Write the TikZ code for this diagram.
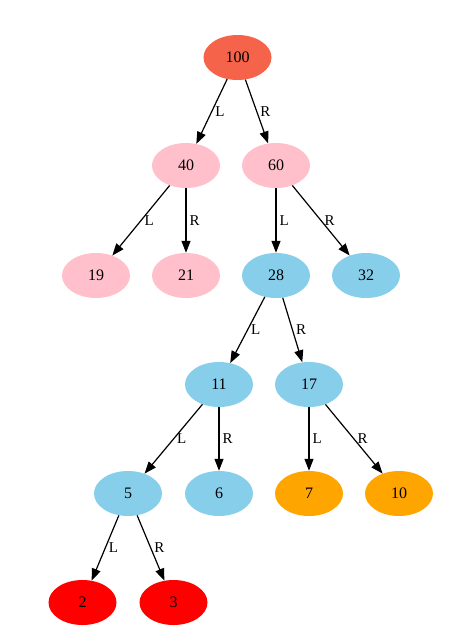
\documentclass[tikz,border=0pt]{standalone}
\usepackage{fontspec}
\setmainfont{Liberation Serif}
\usetikzlibrary{arrows.meta,shapes.geometric}
\definecolor{ctomato}{RGB}{245,99,74}
\definecolor{cpink}{RGB}{255,192,203}
\definecolor{csky}{RGB}{135,206,235}
\definecolor{corange}{RGB}{255,165,0}
\definecolor{cred}{RGB}{255,0,0}
\begin{document}
\begin{tikzpicture}[x=1pt,y=-1pt,
  tnode/.style={ellipse,minimum width=68pt,minimum height=45pt,inner sep=0pt,font=\fontsize{16}{16}\selectfont},
  topn/.style={tnode,fill=ctomato},
  pinkn/.style={tnode,fill=cpink},
  skyn/.style={tnode,fill=csky},
  orn/.style={tnode,fill=corange},
  redn/.style={tnode,fill=cred},
  edge/.style={draw=black,line width=1.2pt,-{Triangle[length=12pt,width=9pt]}},
  lab/.style={font=\fontsize{15}{15}\selectfont,anchor=west,inner sep=0pt,xshift=3pt}]
\useasboundingbox (0,0) rectangle (474,641);
\fill[white] (0,0) rectangle (474,641);
\node[topn]  (n100) at (237.5,57.5) {100};
\node[pinkn] (n40)  at (186,165.5) {40};
\node[pinkn] (n60)  at (276,165.5) {60};
\node[pinkn] (n19)  at (96,275.5) {19};
\node[pinkn] (n21)  at (186,275.5) {21};
\node[skyn]  (n28)  at (276,275.5) {28};
\node[skyn]  (n32)  at (366,275.5) {32};
\node[skyn]  (n11)  at (219,384.5) {11};
\node[skyn]  (n17)  at (309,384.5) {17};
\node[skyn]  (n5)   at (128,493.5) {5};
\node[skyn]  (n6)   at (219,493.5) {6};
\node[orn]   (n7)   at (309,493.5) {7};
\node[orn]   (n10)  at (399,493.5) {10};
\node[redn]  (n2)   at (82.5,602.5) {2};
\node[redn]  (n3)   at (173.5,602.5) {3};
\draw[edge] (n100) -- node[lab] {L} (n40);
\draw[edge] (n100) -- node[lab] {R} (n60);
\draw[edge] (n40) -- node[lab] {L} (n19);
\draw[edge] (n40) -- node[lab] {R} (n21);
\draw[edge] (n60) -- node[lab] {L} (n28);
\draw[edge] (n60) -- node[lab] {R} (n32);
\draw[edge] (n28) -- node[lab] {L} (n11);
\draw[edge] (n28) -- node[lab] {R} (n17);
\draw[edge] (n11) -- node[lab] {L} (n5);
\draw[edge] (n11) -- node[lab] {R} (n6);
\draw[edge] (n17) -- node[lab] {L} (n7);
\draw[edge] (n17) -- node[lab] {R} (n10);
\draw[edge] (n5) -- node[lab] {L} (n2);
\draw[edge] (n5) -- node[lab] {R} (n3);
\end{tikzpicture}
\end{document}
